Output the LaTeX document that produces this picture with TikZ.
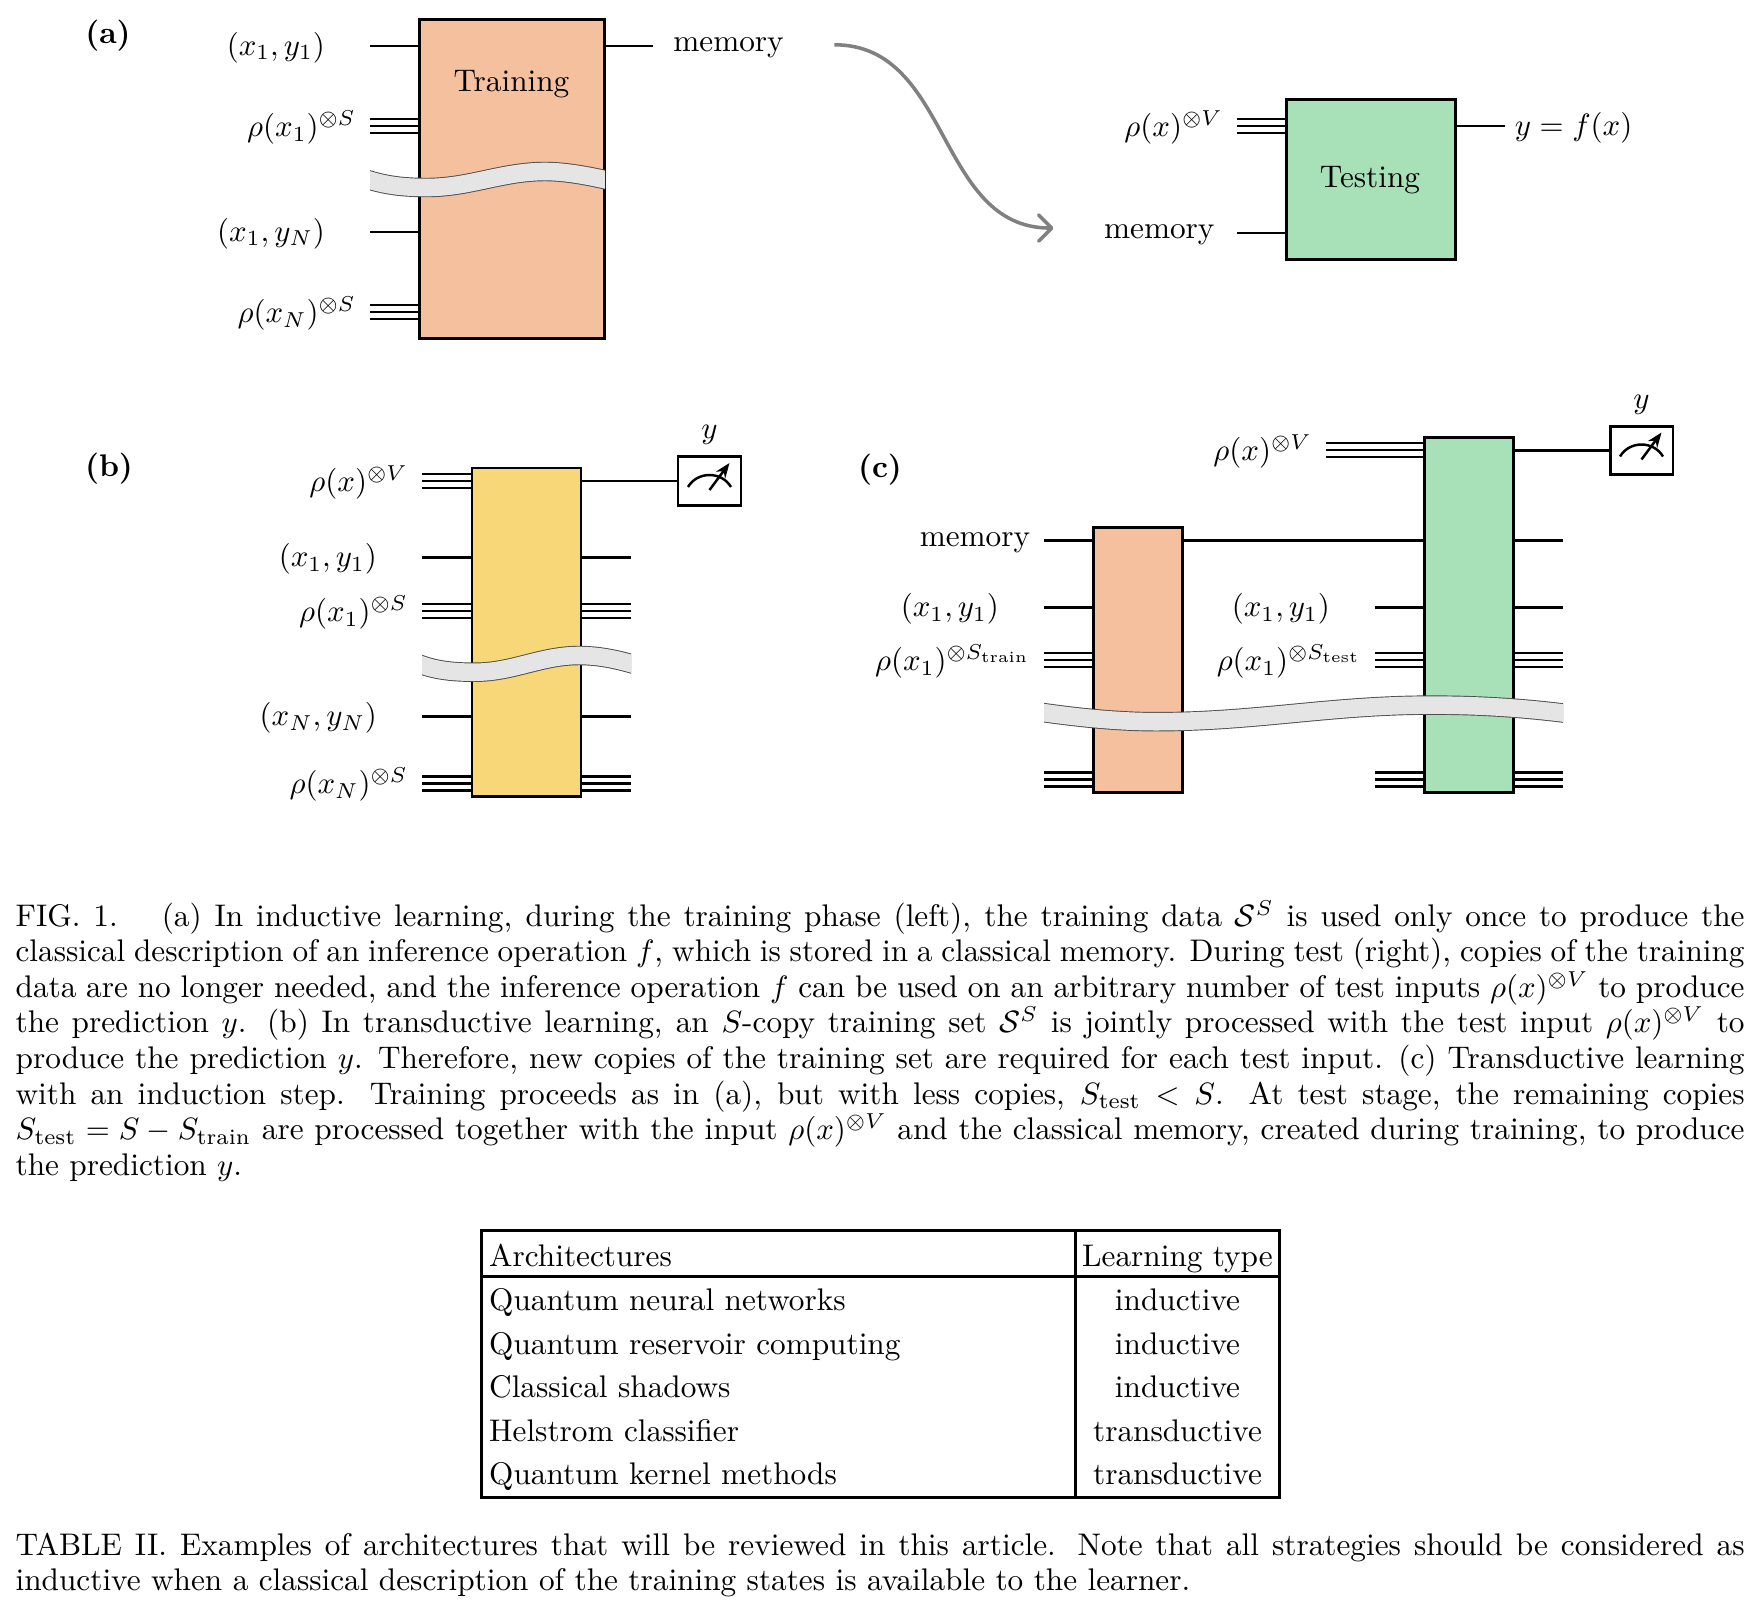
\documentclass[tikz,border=0pt]{standalone}
\usepackage{amsmath,amssymb}
\usepackage{xcolor}
\usepackage{array}
\usetikzlibrary{arrows.meta, positioning}
\definecolor{trainFill}{RGB}{245,192,158}
\definecolor{testFill}{RGB}{168,224,184}
\definecolor{jointFill}{RGB}{248,215,120}
\definecolor{gapFill}{RGB}{229,229,229}
\newcommand{\labfont}{\fontsize{10.13}{11.52}\selectfont}
\newcommand{\busline}[2]{\foreach \dy in {-2.27pt,0pt,2.27pt} {\draw[wire] ([yshift=\dy]#1) -- ([yshift=\dy]#1 -| #2);}}
\newcommand{\gapband}[3]{\begin{scope}\clip (#1,0) rectangle (#2,1610); \draw[gapline] #3;\end{scope}}
\newcommand{\dialmark}[1]{\draw[dial] ([shift={(-21.5,6)}]#1.center) .. controls ([shift={(-12,-10)}]#1.center) and ([shift={(12,-10)}]#1.center) .. ([shift={(21.5,6)}]#1.center);
  \draw[dial, -{Stealth[length=1.7mm,width=1.3mm]}] ([shift={(0,9)}]#1.center) -- ([shift={(20,-18)}]#1.center);}

\begin{document}
\begin{tikzpicture}[
    x=0.324pt, y=-0.324pt,
    node distance=5pt,
    gate/.style={draw=black, line width=0.95pt, inner sep=0pt, align=center},
    meter/.style={draw=black, line width=0.95pt, fill=white, inner sep=0pt, minimum width=20.4pt, minimum height=15.7pt},
    wire/.style={draw=black, line width=0.85pt},
    dial/.style={draw=black, line width=0.8pt},
    gapline/.style={draw=black!70, line width=0.3pt, double=gapFill, double distance=5.7pt},
    lab/.style={inner sep=0pt, yshift=-0.5pt, font=\labfont},
    tag/.style={inner sep=0pt, font=\labfont\bfseries},
    flow/.style={draw=black!50, line width=1.15pt, -{Straight Barb[round,length=1.5mm,width=3mm]}},
    para/.style={inner sep=0pt, anchor=north west, text width=560.2pt, align=justify, font=\labfont}
  ]
    \useasboundingbox (0,0) rectangle (1764,1610);

    \node[tag] (tagA) at (108,35.5) {(a)};
    \node[gate, fill=trainFill, minimum width=59.7pt, minimum height=103.3pt] (train) at (512,179.3) {};
    \node[lab] (trainTxt) at (511.5,82.5) {Training};
    \coordinate (a1) at (370,46);
    \coordinate (a2) at (370,126);
    \coordinate (a3) at (370,232);
    \coordinate (a4) at (370,312);
    \coordinate (aOut) at (653,46);
    \draw[wire] (a1) -- (a1 -| train.west);
    \busline{a2}{train.west}
    \draw[wire] (a3) -- (a3 -| train.west);
    \busline{a4}{train.west}
    \draw[wire] (train.east |- aOut) -- (aOut);
    \gapband{370}{605}{(360,177) .. controls (385,186) and (405,187.5) .. (427,187.5) .. controls (470,187.5) and (502,171.5) .. (545,171.5) .. controls (566,171.5) and (590,176) .. (615,182)}
    \node[lab, left=14.4pt of a1] (aL1) {$(x_1,y_1)$};
    \node[lab, left=4.4pt of a2] (aL2) {$\rho(x_1)^{\otimes S}$};
    \node[lab, left=14.4pt of a3] (aL3) {$(x_1,y_N)$};
    \node[lab, left=4.4pt of a4] (aL4) {$\rho(x_N)^{\otimes S}$};
    \node[lab, right=6.4pt of aOut] (memA) {memory};

    \node[gate, fill=testFill, minimum width=54.6pt, minimum height=51.8pt] (test) at (1371,179.5) {};
    \node[lab] (testTxt) at (1370,179) {Testing};
    \coordinate (t1) at (1237,126);
    \coordinate (t2) at (1237,233);
    \coordinate (tOut) at (1505,126);
    \busline{t1}{test.west}
    \draw[wire] (t2) -- (t2 -| test.west);
    \draw[wire] (test.east |- tOut) -- (tOut);
    \node[lab, left=4.4pt of t1] (tL1) {$\rho(x)^{\otimes V}$};
    \node[lab, left=7.1pt of t2] (memB) {memory};
    \node[lab, right=3pt of tOut] (tL3) {$y=f(x)$};
    \draw[flow] ([shift={(16.2pt,0.9pt)}]memA.east) to[out=0, in=180, looseness=1.05] ([shift={(-16.2pt,2.1pt)}]memB.west);

    \node[tag] (tagB) at (109,469) {(b)};
    \node[gate, fill=jointFill, minimum width=35.3pt, minimum height=106.3pt] (joint) at (526.5,632) {};
    \node[meter] (bMeter) at (709.5,481) {};
    \dialmark{bMeter}
    \node[lab, above=3.8pt of bMeter] (bY) {$y$};
    \coordinate (b1) at (422,481);
    \coordinate (b2) at (422,557.3);
    \coordinate (b3) at (422,611);
    \coordinate (b4) at (422,716.7);
    \coordinate (b5) at (422,783.3);
    \coordinate (b2r) at (631,557.3);
    \coordinate (b3r) at (631,611);
    \coordinate (b4r) at (631,716.7);
    \coordinate (b5r) at (631,783.3);
    \busline{b1}{joint.west}
    \draw[wire] (joint.east |- bMeter) -- (bMeter);
    \draw[wire] (b2) -- (b2 -| joint.west);
    \draw[wire] (joint.east |- b2r) -- (b2r);
    \busline{b3}{joint.west}
    \busline{b3r}{joint.east}
    \draw[wire] (b4) -- (b4 -| joint.west);
    \draw[wire] (joint.east |- b4r) -- (b4r);
    \busline{b5}{joint.west}
    \busline{b5r}{joint.east}
    \gapband{422}{631}{(414,662) .. controls (435,671) and (455,672.2) .. (475,672.2) .. controls (513,672.2) and (541,655.5) .. (579,655.5) .. controls (600,655.5) and (620,660) .. (639,666)}
    \node[lab, left=4.4pt of b1] (bL1) {$\rho(x)^{\otimes V}$};
    \node[lab, left=14.4pt of b2] (bL2) {$(x_1,y_1)$};
    \node[lab, left=4.4pt of b3] (bL3) {$\rho(x_1)^{\otimes S}$};
    \node[lab, left=14.4pt of b4] (bL4) {$(x_N,y_N)$};
    \node[lab, left=4.4pt of b5] (bL5) {$\rho(x_N)^{\otimes S}$};

    \node[tag] (tagC) at (880,469.5) {(c)};
    \node[gate, fill=trainFill, minimum width=28.7pt, minimum height=86pt] (cTrain) at (1138,660) {};
    \node[gate, fill=testFill, minimum width=28.7pt, minimum height=115.1pt] (cTest) at (1469,615) {};
    \node[meter] (cMeter) at (1641.5,450.5) {};
    \dialmark{cMeter}
    \node[lab, above=3.5pt of cMeter] (cY) {$y$};
    \coordinate (c0) at (1326,450);
    \coordinate (c1) at (1044,540.7);
    \coordinate (c1r) at (1563,540.7);
    \coordinate (c2) at (1044,607.3);
    \coordinate (c2m) at (1375,607.3);
    \coordinate (c2r) at (1563,607.3);
    \coordinate (c3) at (1044,660);
    \coordinate (c3m) at (1375,660);
    \coordinate (c3r) at (1563,660);
    \coordinate (c4) at (1044,779.5);
    \coordinate (c4m) at (1375,779.5);
    \coordinate (c4r) at (1563,779.5);
    \busline{c0}{cTest.west}
    \draw[wire] (cTest.east |- cMeter) -- (cMeter);
    \draw[wire] (c1) -- (c1 -| cTrain.west);
    \draw[wire] (c1 -| cTrain.east) -- (c1 -| cTest.west);
    \draw[wire] (cTest.east |- c1r) -- (c1r);
    \draw[wire] (c2) -- (c2 -| cTrain.west);
    \draw[wire] (c2m) -- (c2m -| cTest.west);
    \draw[wire] (cTest.east |- c2r) -- (c2r);
    \busline{c3}{cTrain.west}
    \busline{c3m}{cTest.west}
    \busline{c3r}{cTest.east}
    \busline{c4}{cTrain.west}
    \busline{c4m}{cTest.west}
    \busline{c4r}{cTest.east}
    \gapband{1044}{1563}{(1036,711.5) .. controls (1080,718) and (1120,721.7) .. (1156,721.7) .. controls (1256,721.7) and (1331,705.1) .. (1431,705.1) .. controls (1480,705.1) and (1525,708) .. (1571,714)}
    \node[lab, left=4.4pt of c0] (cL0) {$\rho(x)^{\otimes V}$};
    \node[lab, left=4.3pt of c1] (cL1) {memory};
    \node[lab, left=14.4pt of c2] (cL2) {$(x_1,y_1)$};
    \node[lab, left=14.4pt of c2m] (cL3) {$(x_1,y_1)$};
    \node[lab, left=4.4pt of c3] (cL4) {$\rho(x_1)^{\otimes S_{\text{train}}}$};
    \node[lab, left=4.4pt of c3m] (cL5) {$\rho(x_1)^{\otimes S_{\text{test}}}$};

    \node[para] (figText) at (15,899.7) {FIG. 1.\quad\ (a) In inductive learning, during the training phase (left), the training data $\mathcal{S}^S$ is used only once to produce the\linebreak
    classical description of an inference operation $f$, which is stored in a classical memory. During test (right), copies of the training\linebreak
    data are no longer needed, and the inference operation $f$ can be used on an arbitrary number of test inputs $\rho(x)^{\otimes V}$ to produce\linebreak
    the prediction $y$. (b) In transductive learning, an $S$-copy training set $\mathcal{S}^S$ is jointly processed with the test input $\rho(x)^{\otimes V}$ to\linebreak
    produce the prediction $y$. Therefore, new copies of the training set are required for each test input. (c) Transductive learning\linebreak
    with an induction step. Training proceeds as in (a), but with less copies, $S_{\text{test}}<S$. At test stage, the remaining copies\linebreak
    $S_{\text{test}}=S-S_{\text{train}}$ are processed together with the input $\rho(x)^{\otimes V}$ and the classical memory, created during training, to produce\linebreak
    the prediction $y$.};

    \node[inner sep=0pt, anchor=north west] (archTable) at (479.5,1228.8) {\setlength{\arrayrulewidth}{0.95pt}\setlength{\tabcolsep}{2pt}\setlength{\extrarowheight}{2.6pt}\labfont
    \begin{tabular}{|@{\hspace{2pt}}>{\raggedright\arraybackslash}p{187.4pt}|>{\centering\arraybackslash}p{61.3pt}|}
      \hline
      Architectures\rule{0pt}{11.1pt} & \makebox[61.3pt][c]{Learning type} \\[-0.8pt]
      \hline
      Quantum neural networks & inductive \\
      Quantum reservoir computing & inductive \\
      Classical shadows & inductive \\
      Helstrom classifier & transductive \\
      Quantum kernel methods & transductive \\
      \hline
    \end{tabular}};

    \node[para] (tabText) at (15,1532) {TABLE II. Examples of architectures that will be reviewed in this article. Note that all strategies should be considered as\linebreak
    inductive when a classical description of the training states is available to the learner.};
  \end{tikzpicture}
\end{document}
